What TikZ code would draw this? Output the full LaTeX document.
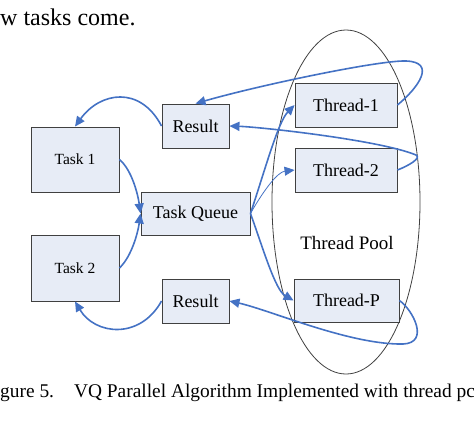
\documentclass[tikz,border=0pt]{standalone}
\usepackage{fontspec}
\setmainfont{Liberation Serif}
\usepackage{tikz}
\usetikzlibrary{arrows.meta,shapes.geometric}
\definecolor{boxfill}{RGB}{231,236,246}
\definecolor{boxline}{RGB}{64,64,64}
\definecolor{flowblue}{RGB}{68,114,196}

\begin{document}
\begin{tikzpicture}[x=1pt, y=-1pt,
    box/.style={draw=boxline, fill=boxfill, line width=0.9pt, inner sep=0pt, font=\fontsize{18}{20}\selectfont},
    flow/.style={draw=flowblue, line width=1.6pt, -{Triangle[length=10pt,width=9pt]}}]
    \useasboundingbox (0,0) rectangle (474,424);

    % running text above and caption below
    \node[anchor=base west, inner sep=0pt, font=\fontsize{24}{28}\selectfont] (above) at (0,25) {w tasks come.};
    \node[anchor=base west, inner sep=0pt, font=\fontsize{19.4}{22}\selectfont] (caption) at (0,397) {gure 5.\hspace{20pt}VQ Parallel Algorithm Implemented with thread pc};

    % thread pool
    \node[draw=boxline, line width=0.8pt, ellipse, minimum width=148pt, minimum height=344pt, inner sep=0pt] (pool) at (346,202) {};
    \node[font=\fontsize{19}{22}\selectfont] (poollabel) at (347,243) {Thread Pool};
    \node[box, minimum width=102pt, minimum height=44pt] (thread1) at (346,105) {Thread-1};
    \node[box, minimum width=102pt, minimum height=44pt] (thread2) at (346,170) {Thread-2};
    \node[box, minimum width=105pt, minimum height=43pt] (threadP) at (346.5,300.5) {Thread-P};

    % tasks, queue and results
    \node[box, minimum width=88pt, minimum height=65pt, font=\fontsize{15.5}{18}\selectfont] (task1) at (75,159.5) {Task 1};
    \node[box, minimum width=88pt, minimum height=66pt, font=\fontsize{15.5}{18}\selectfont] (task2) at (75,268) {Task 2};
    \node[box, minimum width=109pt, minimum height=43pt] (queue) at (195.5,213.5) {Task Queue};
    \node[box, minimum width=67pt, minimum height=44pt] (result1) at (195.5,126) {Result};
    \node[box, minimum width=67pt, minimum height=44pt] (result2) at (195.5,301) {Result};

    % tasks into the queue
    \draw[flow] (task1.east) .. controls (132,170) and (138,195) .. (queue.west);
    \draw[flow] (task2.east) .. controls (132,256) and (138,232) .. (queue.west);

    % queue to threads
    \draw[flow] (queue.east) .. controls (265,170) and (278,122) .. (thread1.west);
    \draw[flow, line width=0.8pt] (queue.east) .. controls (265,188) and (278,172) .. (thread2.west);
    \draw[flow] (queue.east) .. controls (262,245) and (275,290) .. (threadP.west);

    % threads back to results
    \draw[flow] (thread1.east) .. controls (418,88) and (437,62) .. (406,61)
        .. controls (380,60) and (260,85) .. (result1.north);
    \draw[flow] (thread2.east) .. controls (408,166) and (422,158) .. (416,155)
        .. controls (380,140) and (260,127) .. (result1.east);
    \draw[flow] (threadP.east) .. controls (413,310) and (430,343) .. (403,344)
        .. controls (350,345) and (270,310) .. (result2.east);

    % results back to tasks
    \draw[flow] (result1.west) .. controls (140,85) and (100,92) .. (task1.north);
    \draw[flow] (result2.west) .. controls (140,340) and (95,335) .. (task2.south);
\end{tikzpicture}
\end{document}
